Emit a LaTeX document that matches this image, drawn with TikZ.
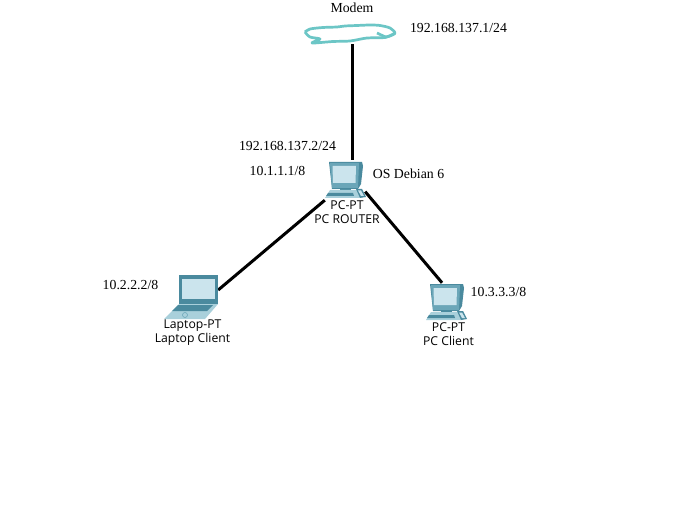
\documentclass[tikz,border=0pt]{standalone}
\usepackage{fontspec}
\setmainfont{Liberation Serif}
\newfontfamily\capfont{Open Sans}
\definecolor{bez}{HTML}{6BA6B8}
\definecolor{bezd}{HTML}{4A8A9E}
\definecolor{scr}{HTML}{CBE4ED}
\definecolor{basec}{HTML}{A9D0DB}
\definecolor{cloudc}{HTML}{6CC6C6}
\tikzset{
  lnk/.style={line width=3pt,black},
  addr/.style={font=\fontsize{13.8}{15}\selectfont,inner sep=0pt,text=black},
  captext/.style={font=\capfont\fontsize{12.2}{14}\selectfont,align=center,inner sep=0pt,text=black},
  dev/.style={draw=none,fill=none,rectangle,inner sep=0pt,minimum width=40pt,minimum height=40pt},
  pcicon/.pic={
    \fill[bezd] (0,-1) -- (33,-1) -- (34,3) -- (32,21) -- (29,26) -- (3,26) -- cycle;
    \fill[bez] (1,0) -- (30,0) -- (29,25) -- (3,25) -- cycle;
    \fill[scr] (3.5,3) -- (27,3) -- (26.5,20) -- (4,20) -- cycle;
    \fill[bezd] (11,25) rectangle (22,27);
    \fill[basec] (1,27) -- (28,27) -- (31,35) -- (-4,35) -- cycle;
    \fill[bezd] (-1,30) -- (24,30) -- (25,33) -- (-3,33) -- cycle;
    \fill[bezd] (27,26) -- (33,26) -- (37,34) -- (31,35) -- cycle;
    \fill[scr] (29,27.5) -- (32,27.5) -- (35,33) -- (32,33) -- cycle;
  },
  laptopicon/.pic={
    \fill[bezd] (0,0) -- (39,0) -- (39,29) -- (0,29) -- cycle;
    \fill[scr] (3,4) -- (36,4) -- (36,24) -- (3,24) -- cycle;
    \fill[basec] (0,29) -- (39,29) -- (26,44) -- (-15,44) -- cycle;
    \fill[bezd] (-1,30) -- (34,30) -- (28,36) -- (-7,36) -- cycle;
    \draw[bez,line width=0.6pt] (6,40) circle (2.5pt);
  }
}
\begin{document}
\begin{tikzpicture}[x=1pt,y=-1pt]
\useasboundingbox (0,0) rectangle (693,529);
\fill[white] (0,0) rectangle (693,529);
% devices (named frames)
\node[dev,minimum width=91pt,minimum height=20pt] (modem) at (352,34) {};
\node[dev] (router) at (345,180) {};
\node[dev,minimum height=30pt,minimum width=39pt] (laptop) at (198.5,290) {};
\node[dev] (client) at (449,303) {};
% connectors
\draw[lnk] (modem.south) -- (modem.south|-router.north);
\draw[lnk] (router.south west) -- (laptop.east);
\draw[lnk] (router.-30) -- (client.109);
% cloud
\draw[cloudc,line width=2.7pt,line join=round]
  plot[smooth,tension=0.5] coordinates {(305,32) (310,29) (323,27.5) (337,27) (345,26) (357,25.5) (370,25) (380,25.5) (390,28) (395,33) (390,36) (386,37) (377,33)};
\draw[cloudc,line width=2.7pt,line join=round]
  plot[smooth,tension=0.5] coordinates {(395,33) (385,37.5) (367,38) (350,41) (333,41.5) (312,43) (320,39) (310,37) (305,32)};
% icons
\pic at (329,163) {pcicon};
\pic at (430,285) {pcicon};
\pic at (179,275) {laptopicon};
% captions
\node[captext] (routercap) at (347,212) {PC-PT\\PC ROUTER};
\node[captext] (laptopcap) at (192.5,332.5) {Laptop-PT\\Laptop Client};
\node[captext] (clientcap) at (448.5,334) {PC-PT\\PC Client};
% addresses
\node[addr] (modemlbl) at (352,8) {Modem};
\node[addr] (ip1) at (458.5,28) {192.168.137.1/24};
\node[addr] (ip2) at (287.5,146) {192.168.137.2/24};
\node[addr] (ip3) at (277.5,171) {10.1.1.1/8};
\node[addr] (os) at (408.5,174) {OS Debian 6};
\node[addr] (ip4) at (130.5,285) {10.2.2.2/8};
\node[addr] (ip5) at (498.5,292) {10.3.3.3/8};
\end{tikzpicture}
\end{document}
